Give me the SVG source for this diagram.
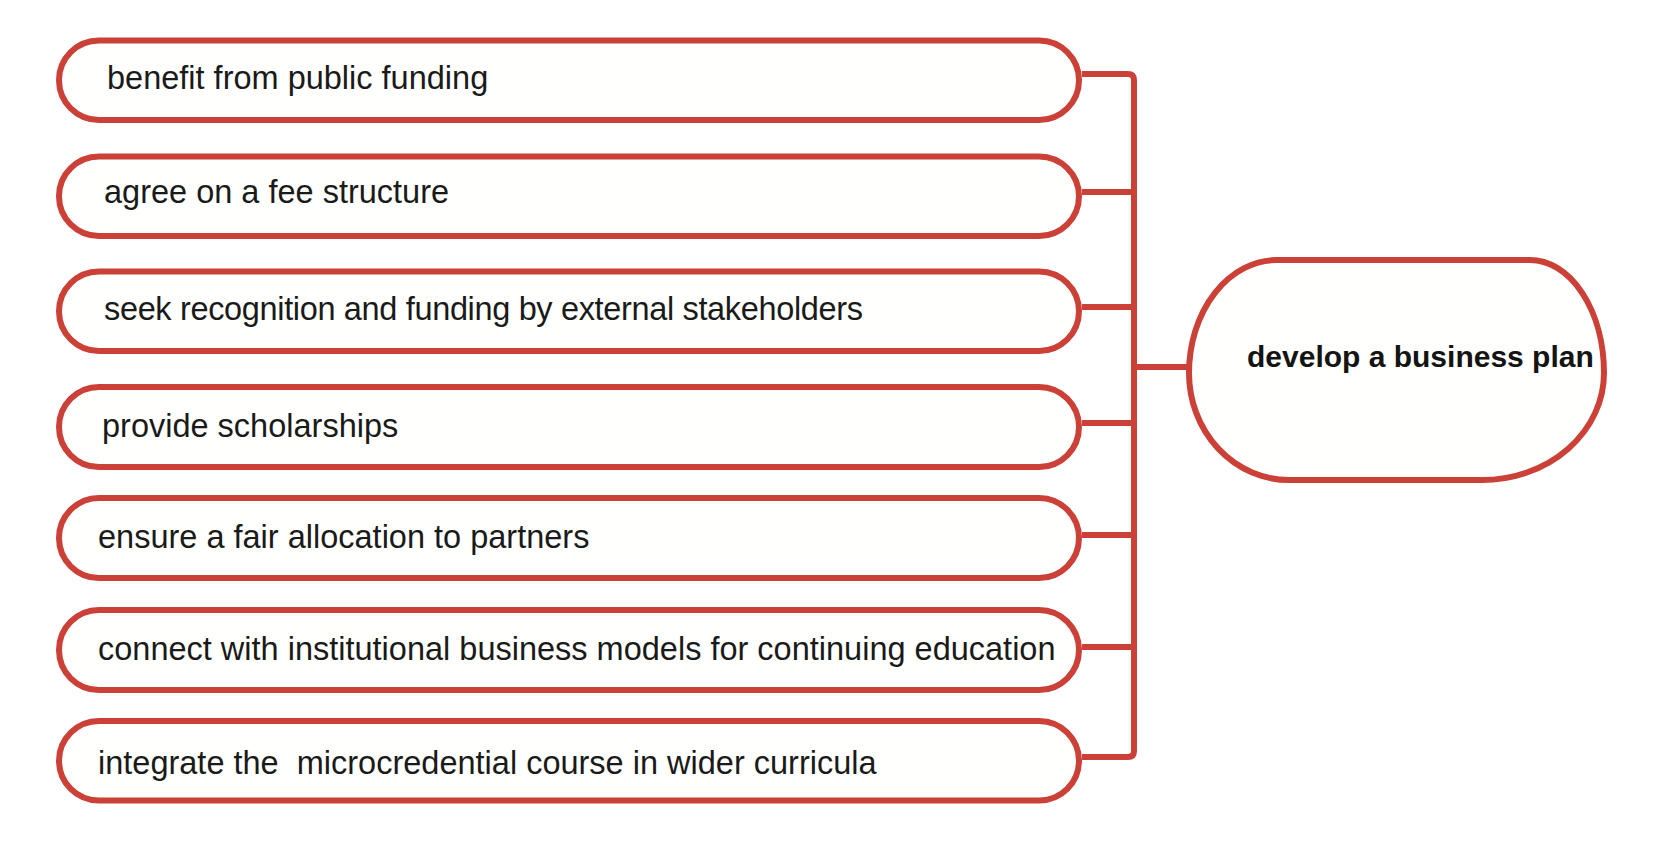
<svg xmlns="http://www.w3.org/2000/svg" width="1654" height="852" viewBox="0 0 1654 852">
<style>
.box{fill:#fffffd;stroke:#cb4037;stroke-width:6}
.lbl{font-family:"Liberation Sans",Arial,sans-serif;font-size:32.5px;fill:#1a1a1a;white-space:pre}
.main{font-family:"Liberation Sans",Arial,sans-serif;font-size:30px;font-weight:bold;fill:#141414}
.con{fill:none;stroke:#cb4037;stroke-width:6;stroke-linejoin:round}
</style>
<rect width="1654" height="852" fill="#ffffff"/>
<g id="connectors">
<path class="con" d="M1082,74 H1128 Q1134,74 1134,80 V751 Q1134,757 1128,757 H1082"/>
<path class="con" d="M1082,192 H1134 M1082,307 H1134 M1082,423 H1134 M1082,535 H1134 M1082,647 H1134 M1134,367 H1189"/>
</g>
<g id="n1"><rect class="box" x="59" y="40.5" width="1020" height="79.5" rx="40"/><text class="lbl" x="107" y="89">benefit from public funding</text></g>
<g id="n2"><rect class="box" x="59" y="156.5" width="1020" height="79.5" rx="40"/><text class="lbl" x="104" y="203">agree on a fee structure</text></g>
<g id="n3"><rect class="box" x="59" y="271.5" width="1020" height="79.5" rx="40"/><text class="lbl" x="104" y="320" textLength="759" lengthAdjust="spacing">seek recognition and funding by external stakeholders</text></g>
<g id="n4"><rect class="box" x="59" y="387" width="1020" height="80" rx="40"/><text class="lbl" x="102" y="437">provide scholarships</text></g>
<g id="n5"><rect class="box" x="59" y="498" width="1020" height="80" rx="40"/><text class="lbl" x="98" y="548">ensure a fair allocation to partners</text></g>
<g id="n6"><rect class="box" x="59" y="610" width="1020" height="80" rx="40"/><text class="lbl" x="98" y="660">connect with institutional business models for continuing education</text></g>
<g id="n7"><rect class="box" x="59" y="721" width="1020" height="79.5" rx="40"/><text class="lbl" x="98" y="774" xml:space="preserve">integrate the  microcredential course in wider curricula</text></g>
<g id="main">
<path class="box" d="M1277,260 H1530 A74,113 0 0 1 1604,373 A122,107 0 0 1 1482,480 H1289 A100,107 0 0 1 1189,373 A88,113 0 0 1 1277,260 Z"/>
<text class="main" x="1247" y="367">develop a business plan</text>
</g>
</svg>
